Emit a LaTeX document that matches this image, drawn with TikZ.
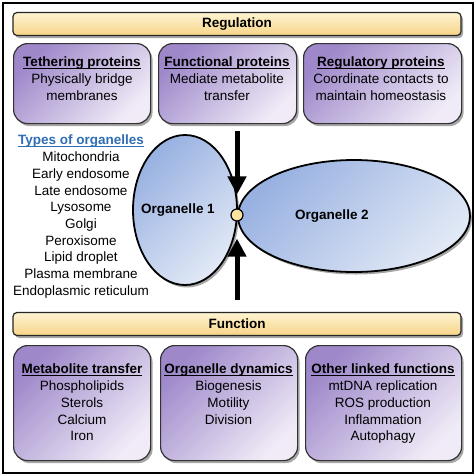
\documentclass[tikz,border=0pt]{standalone}
\usepackage{fontspec}
\setmainfont{Liberation Sans}
\usetikzlibrary{shapes.geometric,shadows,arrows.meta}
\definecolor{puD}{HTML}{9E88CA}
\definecolor{puL}{HTML}{F0EBF7}
\definecolor{ylT}{HTML}{FEF4D2}
\definecolor{ylB}{HTML}{F6D487}
\definecolor{blD}{HTML}{98B1E1}
\definecolor{blL}{HTML}{E2E9F6}
\definecolor{ctc}{HTML}{FBE2A0}
\definecolor{tblue}{HTML}{2F6DB5}
\newsavebox\myulbox
\newcommand\myul[1]{\leavevmode\sbox\myulbox{#1}\rlap{\rule[-2.3pt]{\wd\myulbox}{1.1pt}}\usebox\myulbox}
\begin{document}
\begin{tikzpicture}[x=1pt,y=-1pt,
  shd/.style={drop shadow={shadow xshift=2pt,shadow yshift=-2.5pt,opacity=.35,fill=black}},
  bar/.style={draw=black!85,line width=1.2pt,rounded corners=4pt,top color=ylT,bottom color=ylB,
    minimum width=448pt,minimum height=23pt,font=\fontsize{13.5}{15}\selectfont\bfseries,shd},
  pbox/.style={draw=black!80,line width=1.2pt,rounded corners=14pt,top color=puD,bottom color=puL,
    shading angle=45,anchor=north west,shd},
  body/.style={align=center,font=\fontsize{13.5}{16.7}\selectfont,inner sep=0pt,anchor=north},
  org/.style={ellipse,draw=black,line width=1.8pt,top color=blD,bottom color=blL,shading angle=45,
    font=\fontsize{13.5}{15}\selectfont\bfseries,shd},
  arr/.style={line width=5pt,-{Triangle[length=18pt,width=18pt]}}
]
\useasboundingbox (0,0) rectangle (474,475);
\node[draw=black,line width=1.5pt,anchor=north west,minimum width=470pt,minimum height=470pt,inner sep=0pt] (frame) at (2,2) {};

% Regulation
\node[bar] (reg) at (237,24) {Regulation};
\node[pbox,minimum width=137pt,minimum height=80pt] (b1) at (13,43) {};
\node[pbox,minimum width=138pt,minimum height=80pt] (b2) at (158,43) {};
\node[pbox,minimum width=158pt,minimum height=80pt] (b3) at (303,43) {};
\node[body] (t1) at (82,57) {\myul{\textbf{Tethering proteins}}\\Physically bridge\\membranes};
\node[body] (t2) at (227,57) {\myul{\textbf{Functional proteins}}\\Mediate metabolite\\transfer};
\node[body] (t3) at (381,57) {\myul{\textbf{Regulatory proteins}}\\Coordinate contacts to\\maintain homeostasis};

% Organelles
\node[body] (types) at (81,135) {\color{tblue}\myul{\textbf{Types of organelles}}\color{black}\\Mitochondria\\Early endosome\\Late endosome\\Lysosome\\Golgi\\Peroxisome\\Lipid droplet\\Plasma membrane\\Endoplasmic reticulum};
\node[org,minimum width=232pt,minimum height=112pt] (o2) at (354,216) {\hspace*{-44pt}Organelle 2};
\node[org,minimum width=104pt,minimum height=150pt] (o1) at (185,210) {\hspace*{-14pt}Organelle 1};
\node[circle,draw=black,line width=1.2pt,fill=ctc,minimum size=12pt,inner sep=0pt] (ct) at (237,215) {};
\coordinate (atop) at (237,131);
\coordinate (abot) at (237,300);
\draw[arr,shorten >=14pt] (atop) -- (ct);
\draw[arr,shorten >=17pt] (abot) -- (ct);

% Function
\node[bar] (fun) at (237,324) {Function};
\node[pbox,minimum width=137pt,minimum height=115pt] (c1) at (13,345) {};
\node[pbox,minimum width=137pt,minimum height=115pt] (c2) at (160,345) {};
\node[pbox,minimum width=156pt,minimum height=115pt] (c3) at (305,345) {};
\node[body] (u1) at (82,364) {\myul{\textbf{Metabolite transfer}}\\Phospholipids\\Sterols\\Calcium\\Iron};
\node[body] (u2) at (228.5,364) {\myul{\textbf{Organelle dynamics}}\\Biogenesis\\Motility\\Division};
\node[body] (u3) at (383,364) {\myul{\textbf{Other linked functions}}\\mtDNA replication\\ROS production\\Inflammation\\Autophagy};
\end{tikzpicture}
\end{document}
